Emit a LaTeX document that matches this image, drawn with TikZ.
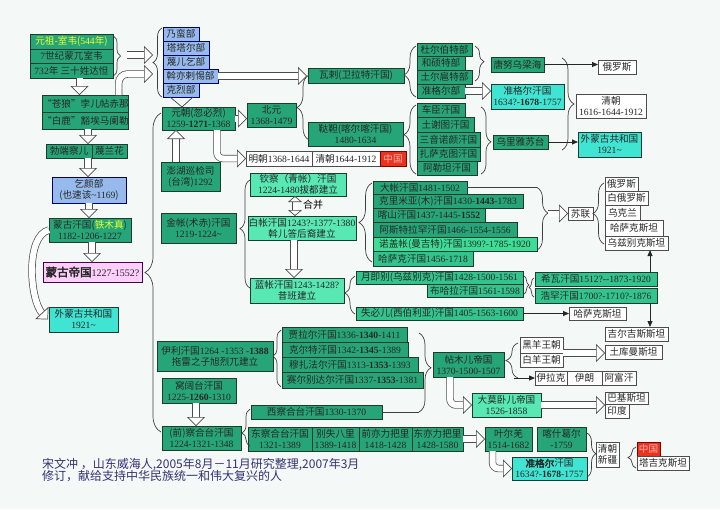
\documentclass[tikz,border=0pt]{standalone}
\usepackage{fontspec}
\setmainfont{Noto Sans CJK SC}
\newfontfamily\nf{Liberation Serif}
\newfontfamily\cjkb{Noto Sans CJK SC}[FakeBold=3]
\usetikzlibrary{decorations.pathreplacing,arrows.meta,calc}
\definecolor{bgc}{RGB}{244,248,247}
\definecolor{dgc}{RGB}{38,166,120}
\definecolor{mgc}{RGB}{50,196,140}
\definecolor{lgc}{RGB}{88,232,180}
\definecolor{lgb}{RGB}{60,222,150}
\definecolor{cyc}{RGB}{64,228,210}
\definecolor{blc}{RGB}{150,186,236}
\definecolor{pkc}{RGB}{252,206,250}
\definecolor{rdc}{RGB}{232,52,30}
\definecolor{bdr}{RGB}{30,60,45}
\definecolor{ylc}{RGB}{240,255,40}
\definecolor{navy}{RGB}{50,50,115}
\newcommand\yr[1]{{\nf #1}}
\newcommand\bx[7]{\node[bx,#1,minimum width={(#5-#3)*1pt},minimum height={(#6-#4)*1pt}] (#2) at ({(#3+#5)/2},{(#4+#6)/2}) {#7};}
\newcommand\brc[5]{\draw[brc,decoration={brace,amplitude=#4pt,aspect=#5}] (#1,#2) -- (#1,#3);}
\tikzset{
 bx/.style={draw=bdr, line width=0.6pt, inner sep=0pt, outer sep=0pt, align=center, font=\fontsize{9.6}{11}\selectfont, text=black!85},
 fdg/.style={fill=dgc}, fmg/.style={fill=mgc}, flg/.style={fill=lgc}, flgb/.style={fill=lgb}, fcy/.style={fill=cyc},
 fbl/.style={fill=blc, draw=blue!40!black}, fwh/.style={fill=white, draw=black!70}, frd/.style={fill=rdc, draw=red!50!black, text=red!30!white}, fpk/.style={fill=pkc, draw=violet!60!black},
 brc/.style={decorate, draw=black!75, line width=0.7pt},
 hol/.style={draw=black!70, line width=0.7pt, double=white, double distance=6pt, -{Triangle[length=9pt,width=18pt,fill=white,line width=0.7pt]}},
 holb/.style={draw=black!70, line width=0.7pt, double=white, double distance=5pt, {Triangle[length=6pt,width=14pt,fill=white,line width=0.7pt]}-{Triangle[length=6pt,width=14pt,fill=white,line width=0.7pt]}},
 arr/.style={draw=black!85, line width=0.8pt, -{Triangle[length=6pt,width=5pt]}},
 ln/.style={draw=black!75, line width=0.7pt},
}
\begin{document}
\begin{tikzpicture}[x=1pt,y=-1pt]
\fill[bgc] (0,0) rectangle (720,509);
\useasboundingbox (0,0) rectangle (720,509);
% left column
\bx{fdg,text=ylc}{yz1}{30}{34}{113}{49}{元祖-室韦(\yr{544}年)}
\bx{fdg}{yz2}{30}{49}{113}{63}{\yr{7}世纪蒙兀室韦}
\bx{fdg}{yz3}{30}{63}{113}{78}{\yr{732}年 三十姓达怛}
\bx{fdg}{cl1}{44}{95}{127}{112}{“苍狼”孛儿帖赤那}
\bx{fdg}{cl2}{44}{112}{127}{129}{“白鹿”豁埃马阑勒}
\bx{fdg}{bd1}{46}{144}{92}{158}{勃端察儿}
\bx{fdg}{bd2}{92}{144}{127}{158}{蔑兰花}
\bx{fbl}{qy}{52}{177}{126}{203}{乞颜部\\(也速该\yr{\textasciitilde1169})}
\bx{fdg}{mgh}{49}{218}{131}{242}{蒙古汗国(\textcolor{ylc}{铁木真})\\\yr{1182-1206-1227}}
\bx{fpk}{mgdg}{43}{262}{142}{282}{{\cjkb\fontsize{11.5}{13}\selectfont 蒙古帝国}\yr{\fontsize{10}{12}\selectfont 1227-1552?}}
\bx{fcy}{wmg1}{49}{307}{118}{332}{外蒙古共和国\\\yr{1921\textasciitilde}}
% tribes
\bx{fbl}{nm}{163}{27}{199}{41}{乃蛮部}
\bx{fbl}{tt}{163}{41}{209}{55}{塔塔尔部}
\bx{fbl}{me}{163}{55}{209}{69}{蔑儿乞部}
\bx{fbl}{wy}{163}{69}{218}{83}{斡亦剌惕部}
\bx{fbl}{kl}{163}{83}{199}{97}{克烈部}
% Yuan
\bx{fdg}{yuan}{162}{107}{235}{130}{元朝(忽必烈)\\\yr{1259-\textbf{1271}-1368}}
\bx{fdg}{by}{247}{103}{296}{127}{北元\\\yr{1368-1479}}
\bx{fdg}{ph}{161}{162}{220}{191}{澎湖巡检司\\(台湾)\yr{1292}}
\bx{fwh}{ming}{246}{151}{312}{166}{明朝\yr{1368-1644}}
\bx{fwh}{qing}{312}{151}{380}{166}{清朝\yr{1644-1912}}
\bx{frd}{zg1}{380}{151}{406}{166}{中国}
\bx{fdg}{wl}{308}{68}{404}{83}{瓦剌(卫拉特汗国)}
\bx{fdg}{dd}{308}{122}{403}{146}{鞑靼(喀尔喀汗国)\\\yr{1480-1634}}
\bx{fdg}{dr}{417}{43}{472}{56}{杜尔伯特部}
\bx{fdg}{hs}{417}{56}{465}{70}{和硕特部}
\bx{fdg}{te}{417}{70}{472}{84}{土尔扈特部}
\bx{fdg}{zge}{417}{84}{465}{98}{准格尔部}
\bx{fdg}{cc}{417}{103}{465}{117}{车臣汗国}
\bx{fdg}{tx}{417}{117}{474}{132}{土谢图汗国}
\bx{fdg}{sy}{417}{132}{480}{147}{三音诺颜汗国}
\bx{fdg}{zs}{417}{147}{480}{161}{扎萨克图汗国}
\bx{fdg}{al}{417}{161}{477}{175}{阿勒坦汗国}
\bx{fdg}{tn}{491}{57}{544}{72}{唐努乌梁海}
\bx{fwh}{els1}{598}{60}{636}{74}{俄罗斯}
\bx{fcy}{zgh1}{491}{84}{564}{109}{准格尔汗国\\\yr{1634?-\textbf{1678}-1757}}
\bx{fwh}{qc}{576}{94}{646}{118}{清朝\\\yr{1616-1644-1912}}
\bx{fdg}{wlys}{493}{135}{548}{149}{乌里雅苏台}
\bx{fcy}{wmg2}{578}{132}{641}{157}{外蒙古共和国\\\yr{1921\textasciitilde}}
% Golden Horde
\bx{fdg}{jz}{161}{213}{236}{243}{金帐(术赤)汗国\\\yr{1219-1224\textasciitilde}}
\bx{flg}{qc2}{250}{173}{346}{196}{钦察（青帐）汗国\\\yr{1224-1480}拔都建立}
\bx{flg}{bz}{248}{216}{356}{240}{白帐汗国\yr{1243?-1377-1380}\\斡儿答后裔建立}
\bx{flg}{lz}{250}{278}{344}{303}{蓝帐汗国\yr{1243-1428?}\\昔班建立}
\node[font=\fontsize{10}{11}\selectfont, inner sep=0] (hb) at (313,205) {合并};
\bx{fdg}{dz1}{373}{181}{467}{194}{大帐汗国\yr{1481-1502}}
\bx{fdg}{dz2}{373}{194}{523}{208}{克里米亚(木)汗国\yr{1430-\textbf{1443}-1783}}
\bx{fdg}{dz3}{373}{208}{485}{222}{喀山汗国\yr{1437-1445-\textbf{1552}}}
\bx{fdg}{dz4}{373}{222}{517}{237}{阿斯特拉罕汗国\yr{1466-1554-1556}}
\bx{flgb}{dz5}{373}{237}{537}{251}{诺盖帐(曼吉特)汗国\yr{1399?-1785-1920}}
\bx{fmg}{dz6}{373}{251}{473}{266}{哈萨克汗国\yr{1456-1718}}
\bx{fmg}{yjb}{356}{271}{523}{284}{月即别(乌兹别克)汗国\yr{1428-1500-1561}}
\bx{fmg}{bhl}{427}{284}{523}{297}{布哈拉汗国\yr{1561-1598}}
\bx{fmg}{sbe}{356}{307}{523}{320}{失必儿(西伯利亚)汗国\yr{1405-1563-1600}}
\bx{fwh}{sl}{568}{207}{593}{220}{苏联}
\bx{fwh}{els2}{605}{177}{638}{191}{俄罗斯}
\bx{fwh}{bels}{605}{191}{648}{205}{白俄罗斯}
\bx{fwh}{wkl}{605}{205}{640}{220}{乌克兰}
\bx{fwh}{hsk1}{605}{220}{663}{236}{哈萨克斯坦}
\bx{fwh}{wzb}{605}{236}{668}{250}{乌兹别克斯坦}
\bx{fmg}{xw}{535}{272}{657}{286}{希瓦汗国\yr{1512?--1873-1920}}
\bx{fmg}{hh}{535}{288}{657}{303}{浩罕汗国\yr{1700?-1710?-1876}}
\bx{fwh}{hsk2}{569}{307}{626}{320}{哈萨克斯坦}
\bx{fwh}{jeg}{605}{327}{668}{341}{吉尔吉斯斯坦}
\bx{fwh}{tkm}{605}{345}{662}{359}{土库曼斯坦}
% Ilkhanate, Ogedei, Chagatai
\bx{fdg}{ylh}{157}{341}{273}{371}{伊利汗国\yr{1264 -1353 -\textbf{1388}}\\拖雷之子旭烈兀建立}
\bx{fdg}{wkt}{162}{378}{236}{403}{窝阔台汗国\\\yr{1225-\textbf{1260}-1310}}
\bx{fdg}{chg}{162}{426}{241}{450}{(前)察合台汗国\\\yr{1224-1321-1348}}
\bx{fdg}{jll}{282}{327}{407}{342}{贾拉尔汗国\yr{1336-\textbf{1340}-1411}}
\bx{fdg}{ket}{282}{342}{408}{357}{克尔特汗国\yr{1342-\textbf{1345}-1389}}
\bx{fdg}{mzf}{282}{357}{418}{372}{穆扎法尔汗国\yr{1313-\textbf{1353}-1393}}
\bx{fdg}{sbd}{282}{372}{423}{388}{赛尔别达尔汗国\yr{1337-\textbf{1353}-1381}}
\bx{fdg}{xch}{251}{405}{382}{419}{西察合台汗国\yr{1330-1370}}
\bx{fdg}{dch}{248}{427}{312}{451}{东察合台汗国\\\yr{1321-1389}}
\bx{fdg}{bsb}{312}{427}{359}{451}{别失八里\\\yr{1389-1418}}
\bx{fdg}{qyl}{359}{427}{412}{451}{前亦力把里\\\yr{1418-1428}}
\bx{fdg}{dyl}{412}{427}{463}{451}{东亦力把里\\\yr{1428-1580}}
\bx{fdg}{yeq}{485}{427}{532}{451}{叶尔羌\\\yr{1514-1682}}
\bx{fdg}{ksg}{537}{427}{586}{451}{喀什葛尔\\\yr{-1759}}
\bx{fcy}{zgh2}{512}{457}{587}{480}{{\cjkb 准格尔}汗国\\\yr{1634?-\textbf{1678}-1757}}
\bx{fdg}{tmr}{433}{352}{504}{377}{帖木儿帝国\\\yr{1370-1500-1507}}
\bx{fwh}{hy}{520}{337}{563}{353}{黑羊王朝}
\bx{fwh}{by2}{520}{353}{563}{367}{白羊王朝}
\bx{fwh}{ylk}{535}{371}{567}{385}{伊拉克}
\bx{fwh}{yl}{567}{371}{602}{385}{伊朗}
\bx{fwh}{afh}{602}{371}{636}{385}{阿富汗}
\bx{flg}{mwe}{472}{393}{541}{417}{大莫卧儿帝国\\\yr{1526-1858}}
\bx{fwh}{bjst}{605}{392}{648}{404}{巴基斯坦}
\bx{fwh}{yd}{605}{404}{629}{418}{印度}
\bx{fwh}{xj}{596}{442}{619}{467}{清朝\\新疆}
\bx{frd}{zg2}{637}{442}{660}{456}{中国}
\bx{fwh}{tjk}{637}{456}{689}{470}{塔吉克斯坦}
% author
\node[anchor=north west, text=navy, font=\fontsize{12}{12.5}\selectfont, align=left, inner sep=0] (auth) at (42,458) {宋文冲 ，山东威海人,2005年8月－11月研究整理,2007年3月\\修订，献给支持中华民族统一和伟大复兴的人};
% braces
\brc{113.5}{36}{76}{7}{0.5}
\brc{162}{97}{28}{9}{0.5}
\brc{309}{140}{75}{12}{0.5}
\brc{416}{97}{46}{12}{0.43}
\brc{475}{46}{81}{9}{0.45}
\brc{416}{174}{105}{12}{0.57}
\brc{481}{107}{174}{10}{0.52}
\brc{562}{58}{150}{12}{0.5}
\brc{161}{432}{113}{16}{0.5}
\brc{250}{288}{180}{10}{0.55}
\brc{372}{262}{183}{13}{0.5}
\brc{537}{187.5}{250}{11}{0.41}
\brc{604}{244}{183}{11}{0.5}
\brc{355}{314}{276}{10}{0.55}
\brc{524}{276}{294}{5}{0.5}
\brc{534}{297}{278}{5}{0.5}
\brc{419}{333}{412}{12}{0.44}
\brc{281}{387}{330}{8}{0.54}
\brc{250}{446}{409}{8}{0.35}
\brc{518}{378}{343}{12}{0.5}
\brc{587}{433}{477}{9}{0.47}
\brc{636}{468}{447}{8}{0.5}
% named free ends
\coordinate (h1) at (127,55);
\coordinate (h1e) at (153,55);
\coordinate (h2e) at (153,74);
\coordinate (b3top) at (307,76);
\coordinate (b12tip) at (548,213.5);
\coordinate (b12t) at (537,187.5);
\coordinate (b16b) at (419,412);
\coordinate (b19b) at (514,378);
\coordinate (xa) at ([xshift=-7pt]xw.north east);
\coordinate (ha) at ([xshift=-7pt]hh.south east);
% hollow arrows
\draw[hol] (h1) -- (h1e);
\draw[hol,rounded corners=9pt] ([xshift=-10pt]cl1.north east) |- (h2e);
\draw[hol] ([xshift=8pt]yz3.south) -- ++(0,17);
\draw[hol] ([xshift=2.5pt]cl2.south) -- ++(0,15);
\draw[hol] ([xshift=-4pt]bd2.south west) -- ++(0,19);
\draw[hol] (qy.south) -- ++(0,15);
\draw[hol] ([xshift=2pt]mgh.south) -- ++(0,20);
\draw[hol] ([xshift=-14.5pt]ph.north) -- ++(0,-32);
\draw[hol] ([xshift=-3pt]wkt.south) -- ++(0,23);
\draw[hol] ([xshift=-8pt]bz.south) -- ++(0,38);
\draw[holb] ([xshift=-3pt]qc2.south) -- ++(0,20);
\draw[hol] (yuan.east) -- (yuan.east -| by.west);
\draw[hol] (wy.east) -- (wy.east -| b3top);
\draw[hol] (zge.east) -- (zge.east -| zgh1.west);
\draw[hol] (b12tip) -- (b12tip -| sl.west);
\draw[hol] (dyl.east) -- (dyl.east -| yeq.west);
\draw[hol] (hy.south east) -- (hy.south east -| tkm.west);
\draw[hol] (mwe.east) -- (mwe.east -| bjst.west);
\draw[hol,rounded corners=6pt] ([xshift=-18pt]yuan.south east) |- (ming.west);
\draw[hol,rounded corners=6pt] ([xshift=-18.5pt]tmr.south) |- (mwe.west);
\draw[hol,rounded corners=6pt] ([xshift=-16pt]yeq.south) |- (zgh2.west);
\draw[hol] (mgh.west) .. controls (25,236) and (30,300) .. ([xshift=-1pt]wmg1.west);
% solid arrows
\draw[arr] (tn.east) -- (tn.east -| els1.west);
\draw[arr] (wlys.east) -- (wlys.east -| wmg2.west);
\draw[arr] (sbe.east) -- (sbe.east -| hsk2.west);
\draw[arr] (xa) -- (xa |- wzb.south);
\draw[arr] (ha) -- (ha |- jeg.north);
\draw[arr] (b19b) -- (b19b -| ylk.west);
% plain lines
\draw[ln] (dz1.east) -- (b12t);
\draw[ln] (xch.east) -- (b16b);
\draw[ln] ([xshift=7pt]kl.south west) -- ([xshift=20pt]yuan.north west) -- ([xshift=30pt]kl.south west);
\end{tikzpicture}
\end{document}
